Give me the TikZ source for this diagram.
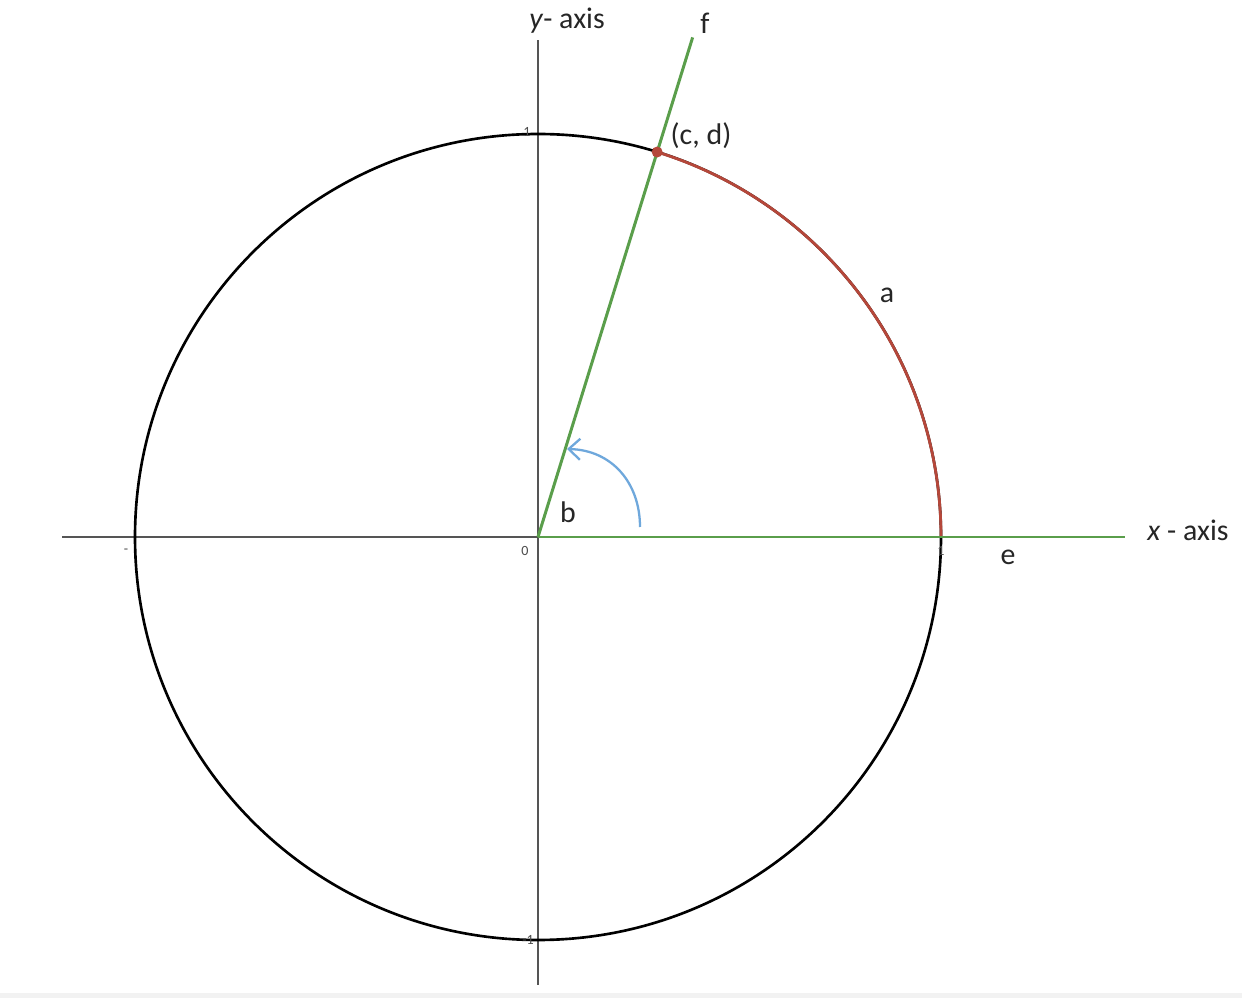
\documentclass[tikz,border=0pt]{standalone}
\usepackage{fontspec}
\setmainfont{Carlito}
\usetikzlibrary{arrows.meta,calc}
\definecolor{axisgray}{HTML}{555555}
\definecolor{lgreen}{HTML}{5A9E4B}
\definecolor{lred}{HTML}{B5473A}
\definecolor{lblue}{HTML}{6FA8DC}
\begin{document}
\begin{tikzpicture}[x=0.02cm,y=0.02cm,
  axisline/.style={draw=axisgray,line width=1.2pt},
  circ/.style={draw=black,line width=1.5pt},
  greenline/.style={draw=lgreen,line width=1.7pt},
  redarc/.style={draw=lred,line width=1.6pt},
  lbl/.style={font=\fontsize{17}{20}\selectfont,text=black!85,inner sep=0pt},
  tiny/.style={font=\fontsize{8}{9}\selectfont,text=black!70,inner sep=0pt}]
\useasboundingbox (0,0) rectangle (1242,998);
\fill[white] (0,0) rectangle (1242,998);
\fill[black!5] (0,0) rectangle (1242,5);
% origin
\coordinate (O) at (538,461);
\coordinate (XL) at (62,461);
\coordinate (XR) at (1125,461);
\coordinate (YT) at (538,958);
\coordinate (YB) at (538,13);
\coordinate (P) at ($(O)+(72.8:403)$);
\coordinate (F) at ($(O)+(72.8:523)$);
% axes
\draw[axisline] (XL) -- (XR);
\draw[axisline] (YB) -- (YT);
% circle
\draw[circ] (O) circle (403);
% red arc
\draw[redarc] ($(O)+(403,0)$) arc (0:72.8:403);
% green lines
\draw[greenline] (O) -- (XR);
\draw[greenline] (O) -- (F);
\fill[lred] (P) circle (5.5);
% blue arrow
\coordinate (A1) at (640,471);
\coordinate (A2) at (567,549);
\draw[lblue,line width=1.3pt,-{Straight Barb[length=6.5pt,width=12pt,line width=1.3pt]}] (A1) .. controls (640,515) and (612,548) .. (A2);
% tick labels
\node[tiny] (t1) at (527,866) {1};
\node[tiny] (t0) at (525,447) {0};
\node[tiny] (tm) at (126,447) {-};
\node[tiny] (tr) at (941,447) {1};
\node[tiny] (tb) at (528,58) {-1};
% labels
\node[lbl] (ylab) at (567,977) {\textit{y}- axis};
\node[lbl] (flab) at (705,975) {f};
\node[lbl] (cd) at (701,862) {(c, d)};
\node[lbl] (alab) at (887,703) {a};
\node[lbl] (blab) at (568,486) {b};
\node[lbl] (elab) at (1008,441) {e};
\node[lbl] (xlab) at (1188,468) {\textit{x} - axis};
\end{tikzpicture}
\end{document}
